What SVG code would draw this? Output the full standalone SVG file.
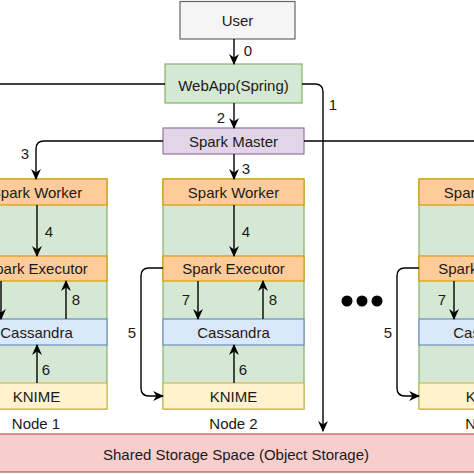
<svg xmlns="http://www.w3.org/2000/svg" width="474" height="474" viewBox="0 0 474 474">
<style>
text{font-family:"Liberation Sans",Arial,sans-serif;font-size:15px;fill:#1a1a1a;text-anchor:middle;dominant-baseline:central}
.c{fill:none;stroke:#000;stroke-width:1.4}
.a{marker-end:url(#arr)}
.green{fill:#d5e8d4;stroke:#82b366;stroke-width:1.2}
.orange{fill:#ffcc99;stroke:#d79b00;stroke-width:1.2}
.blue{fill:#dae8fc;stroke:#6c8ebf;stroke-width:1.2}
.yellow{fill:#fff2cc;stroke:#d6b656;stroke-width:1.2}
.purple{fill:#e1d5e7;stroke:#9673a6;stroke-width:1.2}
.grey{fill:#f5f5f5;stroke:#666;stroke-width:1.2}
.red{fill:#f8cecc;stroke:#b85450;stroke-width:1.2}
</style>
<defs>
<marker id="arr" viewBox="0 0 10 10" refX="9" refY="5" markerWidth="11" markerHeight="11" markerUnits="userSpaceOnUse" orient="auto">
<path d="M0,0.5 L10,5 L0,9.5 L3,5 z" fill="#000"/>
</marker>
<g id="nodeTpl">
<rect class="green" x="0" y="179" width="141" height="230"/>
<rect class="orange" x="0" y="179" width="141" height="26"/>
<rect class="orange" x="0" y="256" width="141" height="25"/>
<rect class="blue" x="0" y="319" width="141" height="26"/>
<rect class="yellow" x="0" y="383" width="141" height="26"/>
<text x="70.5" y="192">Spark Worker</text>
<text x="70.5" y="268.5">Spark Executor</text>
<text x="70.5" y="332">Cassandra</text>
<text x="70.5" y="396">KNIME</text>
<path class="c a" d="M71,205 V256"/>
<path class="c a" d="M35,281 V319"/>
<path class="c a" d="M100,319 V281"/>
<path class="c a" d="M71,383 V345"/>
<path class="c a" d="M0,268 H-14 Q-22,268 -22,276 V388 Q-22,396 -14,396 H0"/>
<text x="83" y="231">4</text>
<text x="23" y="299">7</text>
<text x="110" y="299">8</text>
<text x="80" y="369">6</text>
<text x="-31" y="332">5</text>
</g>
</defs>
<g id="user"><rect class="grey" x="180" y="1.5" width="115" height="37.5"/><text x="237.5" y="20">User</text></g>
<g id="webapp"><rect class="green" x="165" y="64" width="137" height="39"/><text x="233.5" y="85">WebApp(Spring)</text></g>
<g id="master"><rect class="purple" x="163" y="128" width="141" height="26"/><text x="233.5" y="141">Spark Master</text></g>
<g id="storage"><rect class="red" x="-5" y="434" width="484" height="38"/><text x="236" y="454">Shared Storage Space (Object Storage)</text></g>
<g id="node1"><use href="#nodeTpl" x="-34"/><text x="36" y="423">Node 1</text></g>
<g id="node2"><use href="#nodeTpl" x="163"/><text x="233.5" y="423">Node 2</text></g>
<g id="node3"><use href="#nodeTpl" x="419"/><text x="489.5" y="423">Node 3</text></g>
<g id="ellipsis" fill="#000"><circle cx="347" cy="301" r="5.5"/><circle cx="362" cy="301" r="5.5"/><circle cx="377" cy="301" r="5.5"/></g>
<g id="connectors">
<path class="c a" d="M234,39 V64"/>
<path class="c" d="M165,84 H0"/>
<path class="c a" d="M302,84 H315 Q323,84 323,92 V431"/>
<path class="c a" d="M234,103 V128"/>
<path class="c a" d="M163,141 H44 Q36,141 36,149 V179"/>
<path class="c a" d="M234,154 V179"/>
<path class="c" d="M304,141 H474"/>
<text x="248" y="50">0</text>
<text x="333" y="104">1</text>
<text x="221" y="117">2</text>
<text x="25" y="153">3</text>
<text x="246" y="168">3</text>
</g>
</svg>
